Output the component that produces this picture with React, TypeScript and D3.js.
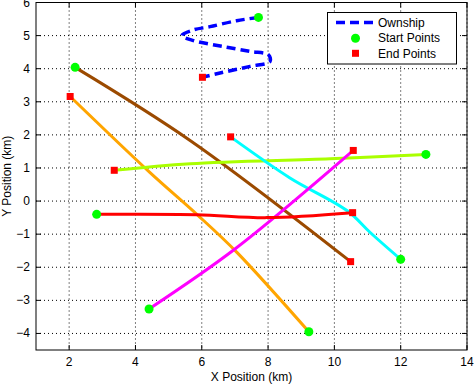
import React from "react";
import * as d3 from "d3";

const W = 474;
const H = 384;

const xTicks = [2, 4, 6, 8, 10, 12, 14];
const yTicks = [-4, -3, -2, -1, 0, 1, 2, 3, 4, 5, 6];

const ownship: [number, number][] = [
  [7.71, 5.55], [7.05, 5.45], [6.25, 5.27], [5.74, 5.17], [5.4, 5.0],
  [5.75, 4.85], [6.64, 4.67], [7.46, 4.52], [8.01, 4.42], [8.06, 4.22],
  [7.46, 4.07], [6.55, 3.87], [6.02, 3.74],
];

const brown: [number, number][] = [[2.18, 4.04], [5.68, 1.81], [10.49, -1.83]];
const orange: [number, number][] = [[9.23, -3.95], [7.06, -1.55], [5.85, -0.4], [4.44, 0.86], [2.03, 3.16]];
const lime: [number, number][] = [[12.76, 1.41], [9.87, 1.28], [5.65, 1.13], [3.36, 0.93]];
const cyan: [number, number][] = [[12.0, -1.76], [11.08, -0.95], [10.4, -0.3], [8.66, 0.7], [6.87, 1.94]];
const magenta: [number, number][] = [[4.41, -3.26], [7.0, -1.45], [10.57, 1.53]];
const red: [number, number][] = [[2.83, -0.4], [5.85, -0.41], [7.96, -0.5], [10.55, -0.35]];

const tracks = [
  { pts: brown, color: "#9b4a00" },
  { pts: orange, color: "#ffa500" },
  { pts: lime, color: "#aaff00" },
  { pts: cyan, color: "#00ffff" },
  { pts: magenta, color: "#ff00ff" },
  { pts: red, color: "#ff0000" },
];

const legendLabels = ["Ownship", "Start Points", "End Points"];

export default function App() {
  const left = 36, right = 467, top = 2.5, bottom = 350;
  const x = d3.scaleLinear().domain([1, 14]).range([left, right]);
  const y = d3.scaleLinear().domain([-4.5, 6]).range([bottom, top]);
  const smooth = d3.line<[number, number]>().x((d) => x(d[0])).y((d) => y(d[1])).curve(d3.curveCatmullRom.alpha(0.5));
  const font = "'Liberation Sans', Arial, Helvetica, sans-serif";
  const tl = 5;

  const starts = [ownship[0], ...tracks.map((t) => t.pts[0])];
  const ends = [ownship[ownship.length - 1], ...tracks.map((t) => t.pts[t.pts.length - 1])];

  return (
    <svg width={W} height={H} style={{ position: "absolute", left: 0, top: 0, background: "#fff" }} fontFamily={font}>
      <rect x={0} y={0} width={W} height={H} fill="#fff" />
      {xTicks.map((t) => (
        <line key={"gx" + t} x1={x(t)} x2={x(t)} y1={top} y2={bottom} stroke="#000" strokeWidth={1} strokeDasharray="1,3" />
      ))}
      {yTicks.map((t) => (
        <line key={"gy" + t} x1={left} x2={right} y1={y(t)} y2={y(t)} stroke="#000" strokeWidth={1} strokeDasharray="1,3" />
      ))}
      {tracks.map((t, i) => (
        <path key={"t" + i} d={smooth(t.pts) || ""} fill="none" stroke={t.color} strokeWidth={3} strokeLinecap="round" strokeLinejoin="round" />
      ))}
      <path d={smooth(ownship) || ""} fill="none" stroke="#0000ff" strokeWidth={3.5} strokeDasharray="9,5" />
      {starts.map((p, i) => (
        <circle key={"s" + i} cx={x(p[0])} cy={y(p[1])} r={4.5} fill="#00ff00" />
      ))}
      {ends.map((p, i) => (
        <rect key={"e" + i} x={x(p[0]) - 3.5} y={y(p[1]) - 3.5} width={7} height={7} fill="#ff0000" />
      ))}
      <rect x={left} y={top} width={right - left} height={bottom - top} fill="none" stroke="#000" strokeWidth={1} />
      {xTicks.map((t) => (
        <g key={"tx" + t}>
          <line x1={x(t)} x2={x(t)} y1={bottom} y2={bottom - tl} stroke="#000" />
          <line x1={x(t)} x2={x(t)} y1={top} y2={top + tl} stroke="#000" />
          <text x={x(t)} y={bottom + 16} fontSize={12} textAnchor="middle" fill="#000">{t}</text>
        </g>
      ))}
      {yTicks.map((t) => (
        <g key={"ty" + t}>
          <line x1={left} x2={left + tl} y1={y(t)} y2={y(t)} stroke="#000" />
          <line x1={right} x2={right - tl} y1={y(t)} y2={y(t)} stroke="#000" />
          <text x={left - 6} y={y(t) + 4} fontSize={12} textAnchor="end" fill="#000">{t < 0 ? "\u2212" + Math.abs(t) : t}</text>
        </g>
      ))}
      <text x={(left + right) / 2} y={381} fontSize={12} textAnchor="middle" fill="#000">X Position (km)</text>
      <text transform={`translate(11,${(top + bottom) / 2}) rotate(-90)`} fontSize={12} textAnchor="middle" fill="#000">Y Position (km)</text>
      <rect x={327.5} y={12.5} width={129} height={51.5} fill="#fff" stroke="#000" strokeWidth={1} />
      <line x1={336} x2={374} y1={22.5} y2={22.5} stroke="#0000ff" strokeWidth={3.5} strokeDasharray="9,5" />
      <circle cx={355.5} cy={38.3} r={4.5} fill="#00ff00" />
      <rect x={352} y={49.8} width={7} height={7} fill="#ff0000" />
      {legendLabels.map((l, i) => (
        <text key={l} x={378} y={22.5 + i * 15.5 + 4.3} fontSize={12} fill="#000">{l}</text>
      ))}
    </svg>
  );
}
